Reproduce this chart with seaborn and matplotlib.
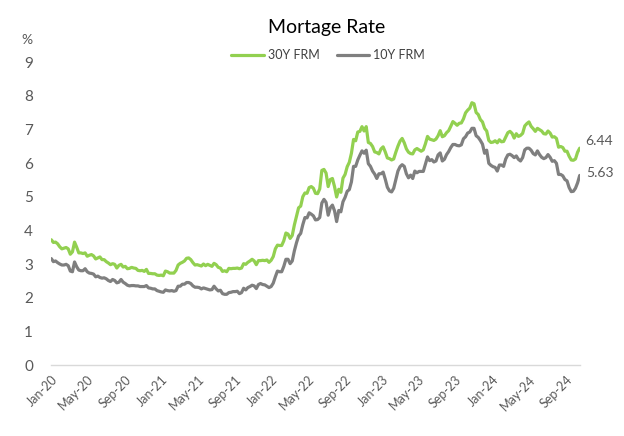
import pandas as pd
import matplotlib.pyplot as plt
import matplotlib.dates as mdates
from matplotlib.lines import Line2D
import seaborn as sns

# weekly values, first week of Jan 2020 to mid Oct 2024
rate_30y = [
    # 2020
    3.72, 3.64, 3.65, 3.60, 3.51, 3.45, 3.47, 3.49, 3.45, 3.29, 3.36, 3.65, 3.50,
    3.33, 3.33, 3.31, 3.33, 3.23, 3.26, 3.28, 3.24, 3.15, 3.18, 3.21, 3.13, 3.13,
    3.07, 3.03, 2.98, 3.01, 2.99, 2.88, 2.96, 2.99, 2.91, 2.93, 2.86, 2.87, 2.90,
    2.88, 2.87, 2.81, 2.80, 2.81, 2.78, 2.84, 2.72, 2.72, 2.71, 2.71, 2.67, 2.66, 2.67,
    # 2021
    2.65, 2.79, 2.77, 2.73, 2.73, 2.73, 2.81, 2.97, 3.02, 3.05, 3.09, 3.17,
    3.18, 3.13, 3.04, 2.97, 2.98, 2.96, 2.94, 3.00, 2.95, 2.99, 2.96, 2.93, 3.02,
    2.98, 2.90, 2.88, 2.78, 2.80, 2.77, 2.87, 2.86, 2.87, 2.87, 2.88, 2.86, 2.88, 3.01,
    2.99, 3.05, 3.09, 3.14, 3.09, 2.98, 3.10, 3.10, 3.11, 3.10, 3.12, 3.05, 3.11,
    # 2022
    3.22, 3.45, 3.56, 3.55, 3.55, 3.69, 3.92, 3.89, 3.76, 3.85, 4.16, 4.42, 4.67,
    4.72, 5.00, 5.11, 5.10, 5.27, 5.30, 5.25, 5.10, 5.09, 5.23, 5.78, 5.81, 5.70,
    5.30, 5.51, 5.54, 5.30, 4.99, 5.22, 5.13, 5.55, 5.66, 5.89, 6.02, 6.29, 6.70,
    6.66, 6.92, 6.94, 7.08, 6.95, 7.08, 6.61, 6.58, 6.49, 6.33, 6.31, 6.27, 6.42,
    # 2023
    6.48, 6.33, 6.15, 6.13, 6.09, 6.12, 6.32, 6.50, 6.65, 6.73, 6.60, 6.42, 6.32,
    6.28, 6.27, 6.39, 6.43, 6.39, 6.35, 6.39, 6.57, 6.79, 6.71, 6.69, 6.67, 6.71,
    6.81, 6.96, 6.78, 6.81, 6.90, 6.96, 7.09, 7.23, 7.18, 7.12, 7.18, 7.19, 7.31,
    7.49, 7.57, 7.63, 7.79, 7.76, 7.50, 7.44, 7.29, 7.22, 7.03, 6.95, 6.67, 6.61,
    # 2024
    6.62, 6.66, 6.60, 6.69, 6.63, 6.64, 6.77, 6.90, 6.94, 6.88, 6.74, 6.87, 6.79,
    6.82, 6.88, 7.10, 7.17, 7.22, 7.09, 7.02, 6.94, 7.03, 6.99, 6.95, 6.87, 6.86,
    6.95, 6.89, 6.77, 6.78, 6.73, 6.47, 6.49, 6.46, 6.35, 6.35, 6.20, 6.09, 6.08,
    6.12, 6.32, 6.44,
]

rate_10y = [
    # 2020
    3.16, 3.07, 3.09, 3.04, 3.00, 2.97, 2.97, 2.99, 2.95, 2.79, 2.77, 3.06, 2.92,
    2.82, 2.80, 2.80, 2.86, 2.77, 2.73, 2.72, 2.70, 2.62, 2.64, 2.60, 2.58, 2.59,
    2.56, 2.51, 2.48, 2.54, 2.51, 2.44, 2.46, 2.54, 2.46, 2.42, 2.37, 2.35, 2.36,
    2.36, 2.35, 2.35, 2.33, 2.33, 2.33, 2.36, 2.29, 2.28, 2.26, 2.26, 2.21, 2.19, 2.17,
    # 2021
    2.16, 2.23, 2.21, 2.20, 2.21, 2.19, 2.21, 2.34, 2.34, 2.40, 2.40, 2.45,
    2.45, 2.42, 2.35, 2.31, 2.31, 2.30, 2.26, 2.29, 2.27, 2.25, 2.23, 2.24, 2.34,
    2.26, 2.20, 2.22, 2.12, 2.10, 2.10, 2.15, 2.16, 2.18, 2.18, 2.19, 2.12, 2.15, 2.28,
    2.23, 2.30, 2.33, 2.37, 2.35, 2.27, 2.39, 2.42, 2.39, 2.38, 2.34, 2.30, 2.33,
    # 2022
    2.43, 2.62, 2.79, 2.77, 2.77, 2.93, 3.14, 3.14, 3.01, 3.09, 3.39, 3.63, 3.83,
    3.91, 4.17, 4.38, 4.37, 4.52, 4.48, 4.43, 4.31, 4.32, 4.38, 4.81, 4.92, 4.83,
    4.45, 4.67, 4.75, 4.58, 4.26, 4.59, 4.55, 4.85, 4.98, 5.16, 5.21, 5.44, 5.90,
    5.90, 6.09, 6.23, 6.36, 6.29, 6.38, 5.98, 5.90, 5.76, 5.67, 5.54, 5.68, 5.68,
    # 2023
    5.73, 5.52, 5.28, 5.17, 5.14, 5.25, 5.51, 5.76, 5.89, 5.95, 5.90, 5.68, 5.56,
    5.64, 5.54, 5.76, 5.71, 5.75, 5.75, 5.75, 5.97, 6.18, 6.07, 6.10, 6.03, 6.06,
    6.24, 6.30, 6.06, 6.11, 6.25, 6.34, 6.46, 6.55, 6.55, 6.52, 6.51, 6.54, 6.72,
    6.78, 6.89, 6.92, 7.03, 7.03, 6.81, 6.76, 6.67, 6.56, 6.29, 6.38, 5.99, 5.93,
    # 2024
    5.89, 5.87, 5.76, 5.94, 5.94, 5.90, 6.12, 6.24, 6.26, 6.22, 6.16, 6.21, 6.11,
    6.06, 6.16, 6.39, 6.44, 6.44, 6.38, 6.28, 6.24, 6.36, 6.25, 6.17, 6.13, 6.16,
    6.25, 6.17, 6.05, 6.07, 5.99, 5.66, 5.66, 5.62, 5.51, 5.47, 5.27, 5.15, 5.16,
    5.25, 5.41, 5.63,
]

series_names = ["30Y FRM", "10Y FRM"]
colors = ["#92D050", "#7F7F7F"]
label_grey = "#595959"

n = len(rate_30y)
dates = pd.date_range("2020-01-02", periods=n, freq="W-THU")
df = pd.DataFrame({
    "date": list(dates) * 2,
    "rate": rate_30y + rate_10y,
    "series": [series_names[0]] * n + [series_names[1]] * n,
})

sns.set_style("white")
plt.rcParams['font.family'] = ['Lato', 'DejaVu Sans']

fig = plt.figure(figsize=(6.24, 4.36), dpi=100)
ax = fig.add_axes([51 / 624, 1 - 365 / 436, (580 - 51) / 624, (365 - 62) / 436])

sns.lineplot(data=df, x="date", y="rate", hue="series", hue_order=series_names,
             palette=colors, linewidth=2.3, legend=False, ax=ax)

ax.set_ylim(0, 9)
ax.set_yticks(range(10))
ax.set_xlim(pd.Timestamp("2020-01-01"), dates[-1] + pd.Timedelta(days=1))
ax.set_xticks(pd.date_range("2020-01-01", "2024-09-01", freq="4MS"))
ax.xaxis.set_major_formatter(mdates.DateFormatter("%b-%y"))
ax.set_xlabel("")
ax.set_ylabel("")

for s in ["top", "right", "left"]:
    ax.spines[s].set_visible(False)
ax.spines["bottom"].set_color("#D9D9D9")
ax.spines["bottom"].set_linewidth(1)

ax.tick_params(axis="x", direction="out", length=4, color="#D9D9D9",
               labelcolor=label_grey, labelsize=9, pad=2)
ax.tick_params(axis="y", length=0, labelcolor=label_grey, labelsize=11, pad=13)
for lab in ax.get_xticklabels():
    lab.set_rotation(45)
    lab.set_ha("right")
    lab.set_rotation_mode("anchor")

# end labels
ax.annotate(f"{rate_30y[-1]:.2f}", xy=(dates[-1], rate_30y[-1]), xytext=(4, 5),
            textcoords="offset points", ha="left", va="center", fontsize=10, color=label_grey)
ax.annotate(f"{rate_10y[-1]:.2f}", xy=(dates[-1], rate_10y[-1]), xytext=(5, 1.5),
            textcoords="offset points", ha="left", va="center", fontsize=10, color=label_grey)

fig.text(27 / 624, 1 - 40 / 436, "%", ha="center", va="center", fontsize=10, color=label_grey)
fig.text(327 / 624, 1 - 27 / 436, "Mortage Rate", ha="center", va="center", fontsize=14, color="black")

handles = [Line2D([], [], color=c, linewidth=2.3) for c in colors]
fig.legend(handles, series_names, loc="center", bbox_to_anchor=(328 / 624, 1 - 55 / 436),
           ncol=2, frameon=False, fontsize=9, handlelength=2.6, columnspacing=1.4,
           handletextpad=0.3, labelcolor="#404040")

fig.savefig("out.png", dpi=100)
